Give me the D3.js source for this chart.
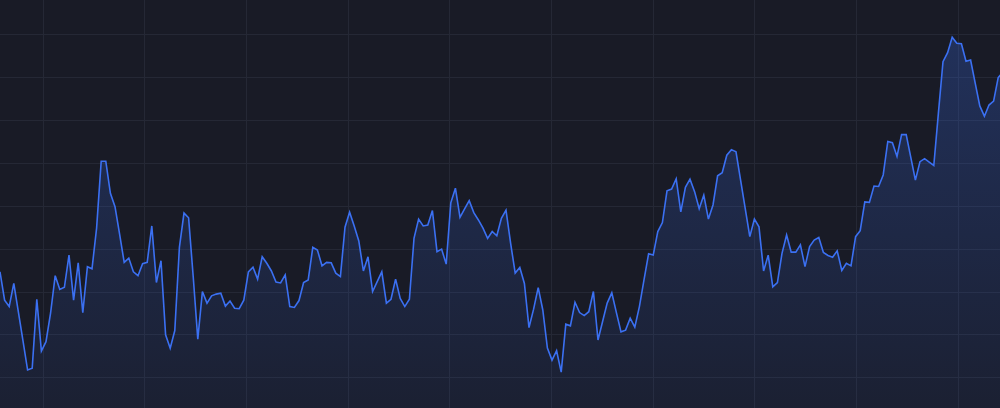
<!DOCTYPE html>
<html>
<head>
<meta charset="utf-8">
<script src="https://cdn.jsdelivr.net/npm/d3@7"></script>
<style>
  html, body { margin: 0; padding: 0; background: #191b26; }
  svg { display: block; }
</style>
</head>
<body>
<svg></svg>
<script>
// size of the SVG
var width = 1000;
var height = 408;

// series values, one per step
const values = [
  24.6, 18.0, 16.5, 21.9, 15.2, 8.5, 1.7, 2.1, 18.2, 6.1,
  8.3, 15.0, 23.7, 20.5, 21.0, 28.5, 18.0, 26.7, 15.1, 25.8,
  25.3, 34.8, 50.4, 50.4, 42.9, 39.8, 33.4, 26.8, 27.8, 24.6,
  23.7, 26.5, 26.8, 35.3, 22.1, 27.2, 9.9, 6.8, 10.9, 30.3,
  38.3, 37.2, 23.5, 8.9, 20.0, 17.3, 19.0, 19.4, 19.6, 16.6,
  17.8, 16.1, 16.0, 18.0, 24.6, 25.7, 22.9, 28.1, 26.6, 24.8,
  22.2, 22.0, 23.9, 16.5, 16.3, 17.9, 22.1, 22.7, 30.3, 29.7,
  26.0, 26.8, 26.7, 24.3, 23.5, 35.0, 38.5, 35.3, 31.8, 24.8,
  28.1, 20.0, 22.3, 24.6, 17.3, 18.2, 22.9, 18.4, 16.5, 18.2,
  32.4, 36.9, 35.3, 35.5, 38.9, 29.3, 29.9, 26.4, 40.7, 44.1,
  37.3, 39.3, 41.2, 38.4, 36.7, 34.8, 32.4, 34.0, 33.0, 37.1,
  39.0, 31.3, 24.3, 25.6, 21.9, 11.6, 15.9, 20.9, 15.7, 6.8,
  4.0, 6.2, 1.2, 12.4, 12.0, 17.5, 15.1, 14.4, 15.3, 20.0,
  8.7, 13.0, 17.3, 19.7, 15.1, 10.6, 11.0, 13.8, 11.7, 16.5,
  22.7, 28.8, 28.5, 34.0, 36.1, 43.5, 43.9, 46.3, 38.6, 44.3,
  46.2, 43.3, 39.3, 42.5, 36.9, 40.2, 47.0, 47.7, 51.8, 53.1,
  52.6, 46.0, 39.4, 32.8, 36.9, 35.1, 24.8, 28.5, 21.1, 22.1,
  28.9, 33.2, 29.2, 29.2, 30.9, 25.8, 30.5, 32.0, 32.6, 29.1,
  28.4, 28.0, 29.5, 24.9, 26.6, 26.0, 32.8, 34.2, 40.9, 40.8,
  44.6, 44.5, 47.2, 55.0, 54.7, 51.5, 56.6, 56.6, 51.3, 46.0,
  50.3, 51.0, 50.2, 49.4, 61.6, 73.6, 75.7, 79.3, 77.9, 77.8,
  73.7, 74.0, 68.6, 63.3, 60.9, 63.5, 64.4, 69.9, 71.2
];

// grid positions
const yTicks = [0, 10, 20, 30, 40, 50, 60, 70, 80, 90];
const xTicks = [9.3, 31.4, 53.5, 75.6, 97.7, 119.8, 141.9, 164.0, 186.1, 208.2];

var svg = d3.select("svg").attr("width", width).attr("height", height);

svg.append("rect")
    .attr("width", width)
    .attr("height", height)
    .attr("fill", "#191b26");

// scales
let xScale = d3.scaleLinear().domain([0, values.length - 1]).range([0, (values.length - 1) * 4.6]);
let yScale = d3.scaleLinear().domain([0, 80]).range([377.3, 34.3]);

// grid lines
svg.append("g").selectAll("line").data(yTicks).enter()
    .append("line")
    .attr("x1", 0).attr("x2", width)
    .attr("y1", (d) => Math.round(yScale(d)) + 0.5)
    .attr("y2", (d) => Math.round(yScale(d)) + 0.5)
    .attr("stroke", "#252835")
    .attr("stroke-width", 1);

svg.append("g").selectAll("line").data(xTicks).enter()
    .append("line")
    .attr("y1", 0).attr("y2", height)
    .attr("x1", (d) => Math.round(xScale(d)) + 0.5)
    .attr("x2", (d) => Math.round(xScale(d)) + 0.5)
    .attr("stroke", "#252835")
    .attr("stroke-width", 1);

// gradient for the area
let grad = svg.append("defs").append("linearGradient")
    .attr("id", "fillGrad")
    .attr("gradientUnits", "userSpaceOnUse")
    .attr("x1", 0).attr("x2", 0)
    .attr("y1", yScale(d3.max(values))).attr("y2", height);
grad.append("stop").attr("offset", "0%").attr("stop-color", "#3a6ff0").attr("stop-opacity", 0.26);
grad.append("stop").attr("offset", "100%").attr("stop-color", "#3a6ff0").attr("stop-opacity", 0.06);

let area = d3.area()
    .x((d, i) => xScale(i))
    .y0(height)
    .y1((d) => yScale(d));

let line = d3.line()
    .x((d, i) => xScale(i))
    .y((d) => yScale(d));

svg.append("path")
    .datum(values)
    .attr("d", area)
    .attr("fill", "url(#fillGrad)");

svg.append("path")
    .datum(values)
    .attr("d", line)
    .attr("fill", "none")
    .attr("stroke", "#3b70f2")
    .attr("stroke-width", 1.6)
    .attr("stroke-linejoin", "miter");
</script>
</body>
</html>
